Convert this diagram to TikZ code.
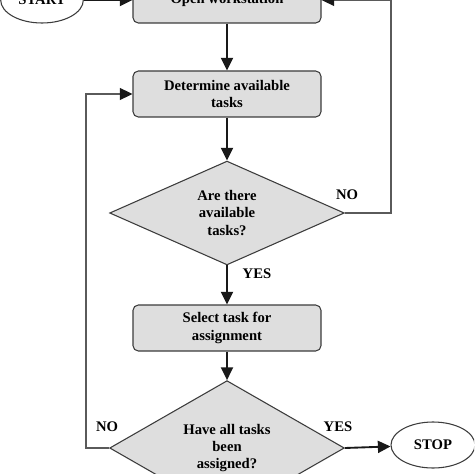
\documentclass[tikz,border=0pt]{standalone}
\usepackage{fontspec}
\setmainfont{Liberation Serif}
\usetikzlibrary{shapes.geometric,arrows.meta}
\definecolor{boxfill}{HTML}{DEDEDE}
\definecolor{boxline}{HTML}{3C3C3C}
\definecolor{loopline}{HTML}{5A5A5A}
\tikzset{
  procbox/.style={draw=boxline, line width=0.8pt, fill=boxfill, rounded corners=4pt,
    minimum width=141pt, minimum height=34.5pt, align=center, inner sep=0pt,
    font=\fontsize{11}{13}\selectfont\bfseries},
  decbox/.style={diamond, draw=boxline, line width=0.8pt, fill=boxfill, inner sep=0pt,
    minimum width=176pt, minimum height=73pt, align=center,
    font=\fontsize{11}{12.8}\selectfont\bfseries},
  termbox/.style={ellipse, draw=boxline, line width=0.8pt, fill=white, inner sep=0pt,
    minimum width=62pt, minimum height=34.5pt,
    font=\fontsize{11}{13}\selectfont\bfseries},
  mainarrow/.style={line width=1.4pt, draw=black!90, -{Triangle[length=9.5pt,width=9pt]}},
  looparrow/.style={line width=0.9pt, draw=loopline, -{Triangle[length=9.5pt,width=9pt,color=black!90,fill=black!90]}},
  lbl/.style={font=\fontsize{11}{13}\selectfont\bfseries, inner sep=0pt}
}
\begin{document}
\begin{tikzpicture}[x=0.75pt,y=-0.75pt]
\clip (0,0) rectangle (474,474);
\fill[white] (0,0) rectangle (474,474);
\node[termbox] (start) at (42,0) {\raisebox{-2.5pt}{START}};
\node[procbox] (open) at (227,0) {\raisebox{-2.5pt}{Open workstation}};
\node[procbox] (det) at (227,94) {Determine available\\tasks};
\node[decbox] (d1) at (227,213) {Are there\\available\\tasks?};
\node[procbox] (sel) at (227,328) {Select task for\\assignment};
\node[decbox] (d2) at (227,448) {Have all tasks\\been\\assigned?};
\node[termbox, minimum width=63pt] (stop) at (433,445) {STOP};
\coordinate (r1) at (391,213);
\coordinate (r2) at (391,0);
\coordinate (l1) at (86,448);
\coordinate (l2) at (86,94);
\draw[mainarrow] (start) -- (open);
\draw[mainarrow] (open) -- (det);
\draw[mainarrow] (det) -- (d1);
\draw[mainarrow] (d1) -- (sel);
\draw[mainarrow] (sel) -- (d2);
\draw[mainarrow] (d2.east) -- (stop);
\draw[looparrow] (d1.east) -- (r1) -- (r2) -- (open.east);
\draw[looparrow] (d2.west) -- (l1) -- (l2) -- (det.west);
\node[lbl] (no1) at (347,195) {NO};
\node[lbl] (yes1) at (257,274) {YES};
\node[lbl] (no2) at (107,427) {NO};
\node[lbl] (yes2) at (338,427) {YES};
\end{tikzpicture}
\end{document}
